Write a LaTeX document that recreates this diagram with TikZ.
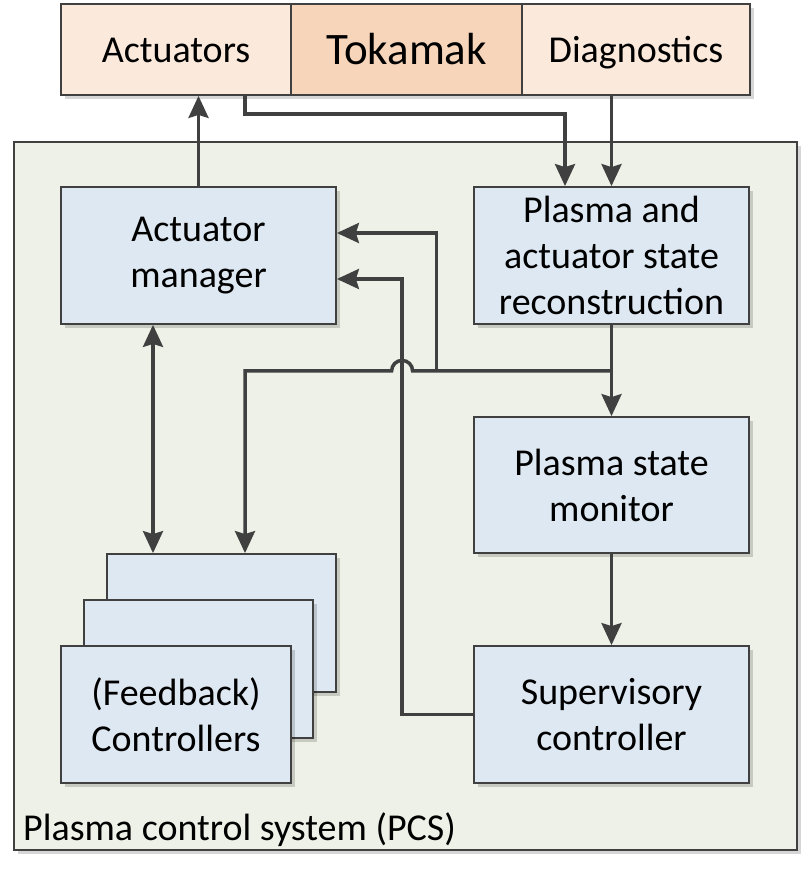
\documentclass[tikz,border=0pt]{standalone}
\usepackage{fontspec}
\setmainfont{Carlito}
\usetikzlibrary{arrows.meta,calc,shadows}
\definecolor{peach}{RGB}{251,233,219}
\definecolor{tokc}{RGB}{247,213,186}
\definecolor{bluebox}{RGB}{222,232,242}
\definecolor{pcsbg}{RGB}{238,241,231}
\definecolor{edgec}{RGB}{64,64,64}
\definecolor{wirec}{RGB}{64,64,64}
\begin{document}
\begin{tikzpicture}[x=1pt,y=-1pt,
 shad/.style={drop shadow={shadow xshift=4pt,shadow yshift=-4pt,fill=black,opacity=0.16}},
 box/.style={draw=edgec,line width=1.8pt,fill=bluebox,minimum width=275pt,minimum height=137pt,align=center,inner sep=0pt,font=\fontsize{38}{46}\selectfont,shad},
 stackbox/.style={draw=edgec,line width=1.8pt,fill=bluebox,minimum width=229pt,minimum height=138pt,align=center,inner sep=0pt,font=\fontsize{38}{46}\selectfont,shad},
 topbox/.style={draw=edgec,line width=1.8pt,fill=peach,minimum height=91pt,inner sep=0pt,font=\fontsize{38}{46}\selectfont,text height=26pt,text depth=0pt,shad},
 tip/.tip={Stealth[length=22pt,width=20pt,inset=3pt]},
 arr/.style={draw=wirec,line width=3.5pt,-tip},
 arrtwo/.style={draw=wirec,line width=3.5pt,tip-tip}]
\useasboundingbox[fill=white] (0,0) rectangle (804,874);
% PCS background
\node[draw=edgec,line width=1.8pt,fill=pcsbg,shad,minimum width=783pt,minimum height=708pt,inner sep=0pt] (pcs) at (405.5,496) {};
\node[anchor=base west,inner sep=0pt,font=\fontsize{38}{46}\selectfont] (pcslabel) at (23,840) {Plasma control system (PCS)};
% top row
\node[topbox,minimum width=230pt] (act) at (176,49.5) {Actuators};
\node[topbox,minimum width=231pt,fill=tokc,font=\fontsize{45}{54}\selectfont,text height=31pt] (tok) at (406.5,49.5) {Tokamak};
\node[topbox,minimum width=228pt] (diag) at (636,49.5) {Diagnostics};
% inner boxes
\node[box] (am) at (198.5,255.5) {Actuator\\manager};
\node[box] (rec) at (611.5,255.5) {Plasma and\\actuator state\\reconstruction};
\node[box,minimum height=136pt] (mon) at (611.5,485) {Plasma state\\monitor};
\node[box] (sup) at (611.5,714.5) {Supervisory\\controller};
\node[stackbox] (c3) at (221.5,623) {};
\node[stackbox] (c2) at (198.5,669) {};
\node[stackbox,minimum width=230pt,minimum height=137pt] (c1) at (176,714.5) {(Feedback)\\Controllers};
% connectors
\draw[arr] (am.north) -- (am.north |- act.south);
\coordinate (a1) at ([xshift=69pt]act.south);
\coordinate (r1) at ([xshift=-46.5pt]rec.north);
\draw[arr] (a1) -- ++(0,18) -| (r1);
\draw[arr] (rec.north |- diag.south) -- (rec.north);
\draw[arr] (rec.south) -- (mon.north);
\draw[arr] (mon.south) -- (sup.north);
\coordinate (j) at ($(rec.south)+(0,46)$);
\coordinate (k) at ($(j)+(-175,0)$);
\coordinate (s1) at ($(sup.west)+(-71,0)$);
\coordinate (c3in) at ([xshift=23.5pt]c3.north);
\draw[arr] (j) -- ($(j -| s1)+(10.5,0)$) arc[start angle=0,end angle=-180,radius=10.5] -- (j -| c3in) -- (c3in);
\draw[arr] (k) |- ([yshift=22.5pt]am.east);
\draw[arr] (sup.west) -- (s1) |- ([yshift=-23.5pt]am.east);
\coordinate (d1) at ([xshift=-45.5pt]am.south);
\draw[arrtwo] (d1) -- (d1 |- c3.north);
\end{tikzpicture}
\end{document}
